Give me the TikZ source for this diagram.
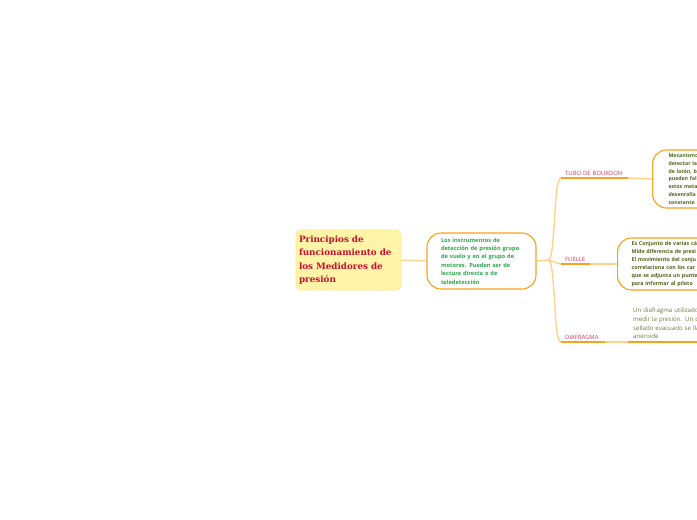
\documentclass[tikz,border=0pt]{standalone}
\usepackage{fontspec}
\setmainfont{Open Sans}
\newfontfamily\titlefont{DejaVu Serif}
\definecolor{orangeedge}{HTML}{F9A11B}
\definecolor{lightlink}{HTML}{FFD28C}
\definecolor{rootfill}{HTML}{FFF4A8}
\definecolor{rootedge}{HTML}{FCE98A}
\definecolor{titlered}{HTML}{C8102E}
\definecolor{notegreen}{HTML}{2BA84A}
\definecolor{labelpink}{HTML}{D63A5E}
\definecolor{olive}{HTML}{4F661C}
\begin{document}
\begin{tikzpicture}[x=1pt, y=-1pt,
    rootbox/.style={draw=rootedge, fill=rootfill, rounded corners=5, line width=0.8,
        text width=99, inner xsep=3, minimum height=60, align=left,
        font=\titlefont\bfseries\fontsize{8.8}{13.3}\selectfont, text=titlered},
    notebox/.style={draw=orangeedge, fill=white, rounded corners=14, line width=1.1,
        align=left, font=\bfseries\fontsize{5.3}{8}\selectfont},
    branch/.style={anchor=south west, inner xsep=4, inner ysep=2.5, align=left,
        font=\fontsize{5.9}{7}\selectfont, text=labelpink},
    link/.style={draw=lightlink, line width=1.4},
    uline/.style={draw=orangeedge, line width=1.8}]
\useasboundingbox (0,0) rectangle (697,520);

\node[rootbox] (root) at (348.5,260) {Principios de\\funcionamiento de\\los Medidores de\\presión};
\node[notebox, text=notegreen, text width=81, inner xsep=14, minimum height=56,
    font=\bfseries\fontsize{5.7}{8.4}\selectfont] (center) at (481.5,261)
    {Los instrumentos de\\detección de presión grupo\\de vuelo y en el grupo de\\motores. Pueden ser de\\lectura directa o de\\teledetección};
\coordinate (hub) at (548,260);

% ramas
\node[branch, text width=59] (tubo) at (561,178) {TUBO DE BOURDON};
\node[branch, text width=21] (fuelle) at (561,264) {FUELLE};
\node[branch, text width=36] (diafragma) at (561,342) {DIAFRAGMA};

\node[notebox, text=olive, anchor=west, text width=100, inner xsep=16, minimum height=58,
    font=\bfseries\fontsize{5.2}{7.9}\selectfont] (tubotxt) at (652,179)
    {Mecanismo\\detectar la\\de latón, b\\pueden fal\\estos meta\\desenrolla\\constante};
\node[notebox, text=olive, anchor=west, text width=110, inner xsep=14, minimum height=52] (fuelletxt) at (617,264)
    {Es Conjunto de varias cá\\Mide diferencia de presi\\El movimiento del conju\\correlaciona con los car\\que se adjunta un punte\\para informar al piloto};
\node[anchor=south west, inner xsep=5, inner ysep=3, text width=100, align=left, text=olive!85,
    font=\fontsize{6.1}{8.7}\selectfont] (diatxt) at (628,342)
    {Un diafragma utilizado\\medir la presión. Un dia\\sellado evacuado se lla\\aneroide};

\draw[link] (root) -- (center);
\draw[link] (center.east) -- (hub);
\foreach \b in {tubo,fuelle,diafragma}
{
    \draw[link] (hub) to[out=0, in=180, looseness=0.25] (\b.south west);
    \draw[uline] (\b.south west) -- (\b.south east);
}
\draw[link] (tubo.south east) -- (tubotxt.west);
\draw[link] (fuelle.south east) -- (fuelletxt.west);
\draw[link] (diafragma.south east) -- (diatxt.south west);
\draw[uline] (diatxt.south west) -- (diatxt.south east);
\end{tikzpicture}
\end{document}
